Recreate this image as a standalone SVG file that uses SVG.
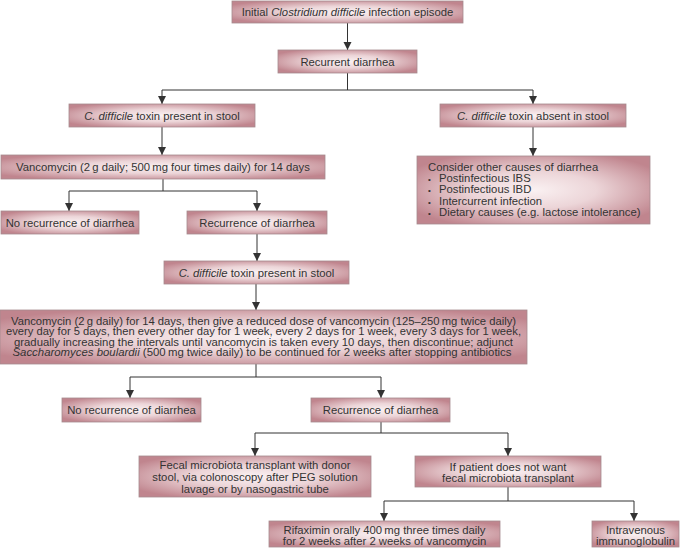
<svg xmlns="http://www.w3.org/2000/svg" width="685" height="555" viewBox="0 0 685 555">
<defs>
<radialGradient id="bg" cx="50%" cy="50%" r="60%">
<stop offset="0" stop-color="#faf1f2"/>
<stop offset="0.45" stop-color="#ecd5d8"/>
<stop offset="1" stop-color="#c0858e"/>
</radialGradient>
<marker id="ah" viewBox="0 0 8 10" refX="8" refY="5" markerWidth="8" markerHeight="10" markerUnits="userSpaceOnUse" orient="auto">
<path d="M0,1 L8,5 L0,9 Z" fill="#333"/>
</marker>
<style>
.box{fill:url(#bg);stroke:#a68a8e;stroke-width:0.8}
.t{font-family:"Liberation Sans",Arial,sans-serif;font-size:11.3px;fill:#333;text-anchor:middle}
.tl{font-family:"Liberation Sans",Arial,sans-serif;font-size:11.3px;fill:#333}
.big{font-family:"Liberation Sans",Arial,sans-serif;font-size:11px;fill:#333;text-anchor:middle}
.i{font-style:italic}
.c{fill:none;stroke:#333;stroke-width:1}
.a{marker-end:url(#ah)}
</style>
</defs>
<rect width="685" height="555" fill="#fff"/>
<g id="connectors">
<path class="c a" d="M347.5,23 V50"/>
<path class="c" d="M347.5,73 V90 M162,90 H533"/>
<path class="c a" d="M162,90 V104"/>
<path class="c a" d="M533,90 V104"/>
<path class="c a" d="M162,127 V155"/>
<path class="c a" d="M533,127 V156"/>
<path class="c" d="M163,179 V191 M69,191 H257"/>
<path class="c a" d="M69,191 V211"/>
<path class="c a" d="M257,191 V211"/>
<path class="c a" d="M257,234 V261"/>
<path class="c a" d="M256,284 V310"/>
<path class="c" d="M256,364 V377 M130,377 H381"/>
<path class="c a" d="M130,377 V398"/>
<path class="c a" d="M381,377 V398"/>
<path class="c" d="M381,422 V433 M255,433 H508"/>
<path class="c a" d="M255,433 V456"/>
<path class="c a" d="M508,433 V456"/>
<path class="c" d="M508,487 V501 M384,501 H634"/>
<path class="c a" d="M384,501 V521"/>
<path class="c a" d="M634,501 V521"/>
</g>
<g id="n1"><rect class="box" x="232" y="1" width="231" height="22"/>
<text class="t" x="347.5" y="16">Initial <tspan class="i">Clostridium difficile</tspan> infection episode</text></g>
<g id="n2"><rect class="box" x="278" y="50" width="139" height="23"/>
<text class="t" x="347.5" y="65.5">Recurrent diarrhea</text></g>
<g id="n3"><rect class="box" x="69" y="104" width="186" height="23"/>
<text class="t" x="162" y="119.5"><tspan class="i">C. difficile</tspan> toxin present in stool</text></g>
<g id="n4"><rect class="box" x="440" y="104" width="186" height="23"/>
<text class="t" x="533" y="119.5"><tspan class="i">C. difficile</tspan> toxin absent in stool</text></g>
<g id="n5"><rect class="box" x="1" y="155" width="324" height="24"/>
<text class="t" x="163" y="171">Vancomycin (2&#8201;g daily; 500&#8201;mg four times daily) for 14 days</text></g>
<g id="n6"><rect class="box" x="417" y="156" width="233" height="68"/>
<text class="tl" x="428" y="171">Consider other causes of diarrhea</text>
<text class="tl" x="428" y="182.2"><tspan font-size="8">•</tspan><tspan x="439">Postinfectious IBS</tspan></text>
<text class="tl" x="428" y="193.4"><tspan font-size="8">•</tspan><tspan x="439">Postinfectious IBD</tspan></text>
<text class="tl" x="428" y="204.6"><tspan font-size="8">•</tspan><tspan x="439">Intercurrent infection</tspan></text>
<text class="tl" x="428" y="215.8"><tspan font-size="8">•</tspan><tspan x="439">Dietary causes (e.g. lactose intolerance)</tspan></text></g>
<g id="n7"><rect class="box" x="1" y="211" width="138" height="23"/>
<text class="t" x="70" y="226.5">No recurrence of diarrhea</text></g>
<g id="n8"><rect class="box" x="187" y="211" width="140" height="23"/>
<text class="t" x="257" y="226.5">Recurrence of diarrhea</text></g>
<g id="n9"><rect class="box" x="164" y="261" width="185" height="23"/>
<text class="t" x="256.5" y="276.5"><tspan class="i">C. difficile</tspan> toxin present in stool</text></g>
<g id="n10"><rect class="box" x="0" y="310" width="527" height="54"/>
<text class="big" x="263.5" y="324.5" textLength="505" lengthAdjust="spacingAndGlyphs">Vancomycin (2&#8201;g daily) for 14 days, then give a reduced dose of vancomycin (125–250&#8201;mg twice daily)</text>
<text class="big" x="263.5" y="335" textLength="515" lengthAdjust="spacingAndGlyphs">every day for 5 days, then every other day for 1 week, every 2 days for 1 week, every 3 days for 1 week,</text>
<text class="big" x="263.5" y="345.5" textLength="499" lengthAdjust="spacingAndGlyphs">gradually increasing the intervals until vancomycin is taken every 10 days, then discontinue; adjunct</text>
<text class="big" x="262" y="356" textLength="499" lengthAdjust="spacingAndGlyphs"><tspan class="i">Saccharomyces boulardii</tspan> (500&#8201;mg twice daily) to be continued for 2 weeks after stopping antibiotics</text></g>
<g id="n11"><rect class="box" x="62" y="398" width="139" height="24"/>
<text class="t" x="131.5" y="414">No recurrence of diarrhea</text></g>
<g id="n12"><rect class="box" x="311" y="398" width="139" height="24"/>
<text class="t" x="380.5" y="414">Recurrence of diarrhea</text></g>
<g id="n13"><rect class="box" x="139" y="456" width="232" height="41"/>
<text class="t" x="255" y="468.5">Fecal microbiota transplant with donor</text>
<text class="t" x="255" y="480.5">stool, via colonoscopy after PEG solution</text>
<text class="t" x="255" y="492.5">lavage or by nasogastric tube</text></g>
<g id="n14"><rect class="box" x="415" y="456" width="186" height="31"/>
<text class="t" x="508" y="470.5">If patient does not want</text>
<text class="t" x="508" y="481.5">fecal microbiota transplant</text></g>
<g id="n15"><rect class="box" x="269" y="521" width="231" height="26"/>
<text class="t" x="384.5" y="533.5">Rifaximin orally 400&#8201;mg three times daily</text>
<text class="t" x="384.5" y="544.5">for 2 weeks after 2 weeks of vancomycin</text></g>
<g id="n16"><rect class="box" x="592" y="521" width="87" height="26"/>
<text class="t" x="635.5" y="533.5">Intravenous</text>
<text class="t" x="635.5" y="544.5">immunoglobulin</text></g>
</svg>
